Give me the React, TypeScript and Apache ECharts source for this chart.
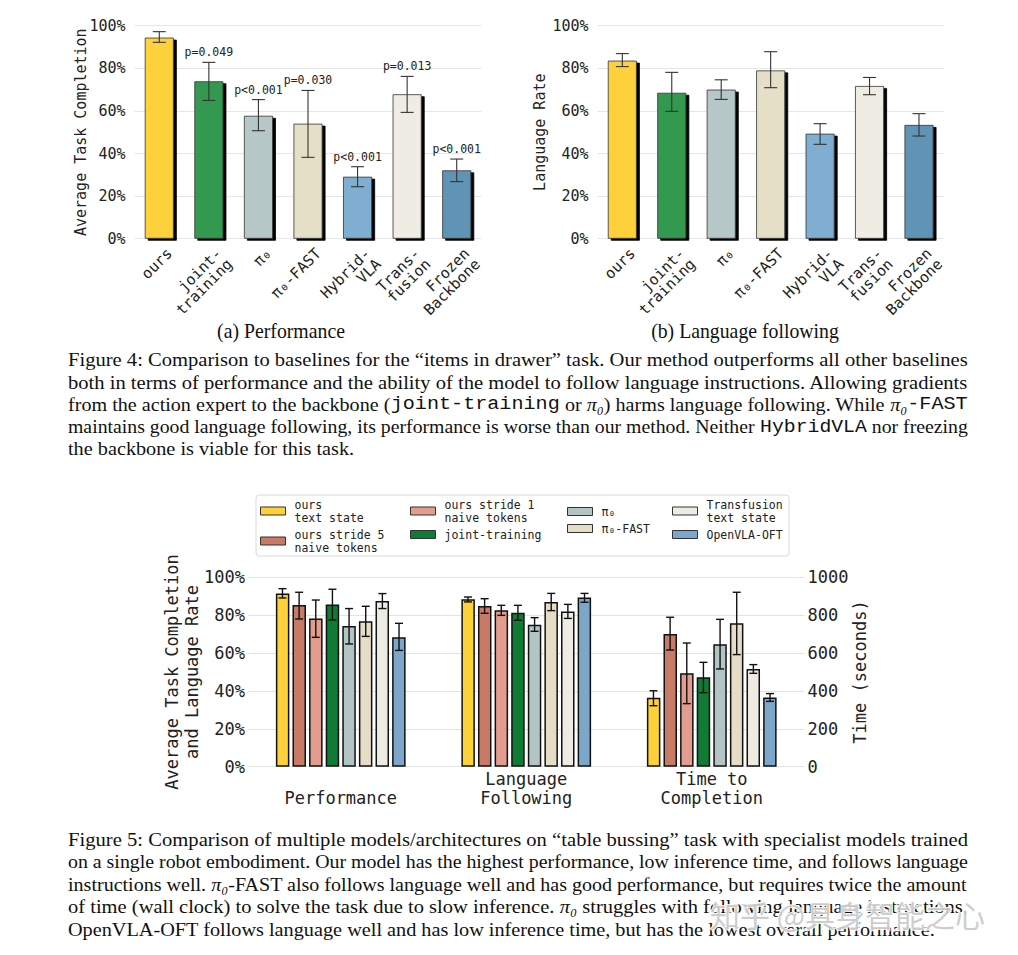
import React, { useEffect, useRef } from "react";
import * as echarts from "echarts";

// ---------- Figure 4 data ----------
const topCategories = ["ours", "joint-\ntraining", "π₀", "π₀-FAST", "Hybrid-\nVLA", "Trans-\nfusion", "Frozen\nBackbone"];
const topColors = ["#fdd13a", "#30994f", "#b6c7c7", "#e6dfc8", "#80aed1", "#efece3", "#6094b4"];
const perfValues = [94.4, 73.9, 57.7, 54.0, 29.1, 67.8, 32.1];
const perfLow = [92.2, 64.9, 50.7, 38.2, 24.4, 59.3, 26.8];
const perfHigh = [97.2, 82.8, 65.3, 69.6, 33.8, 76.2, 37.4];
const perfPValues = ["", "p=0.049", "p<0.001", "p=0.030", "p<0.001", "p=0.013", "p<0.001"];
const langValues = [83.6, 68.5, 70.0, 79.0, 49.3, 71.7, 53.4];
const langLow = [80.8, 59.8, 65.4, 70.9, 44.3, 67.6, 48.2];
const langHigh = [86.9, 78.1, 74.6, 87.8, 54.0, 75.7, 58.7];

// ---------- Figure 5 data ----------
const groupCategories = ["Performance", "Language\nFollowing", "Time to\nCompletion"];
const modelNames = [
  "ours\ntext state",
  "ours stride 5\nnaive tokens",
  "ours stride 1\nnaive tokens",
  "joint-training",
  "π₀",
  "π₀-FAST",
  "Transfusion\ntext state",
  "OpenVLA-OFT",
];
const modelColors = ["#fdd13a", "#c77a65", "#e29d8e", "#0f7b35", "#b3c4c4", "#e5ddc6", "#eeebe3", "#7ca7cb"];
const perf5 = [91.5, 85.4, 78.2, 85.7, 74.3, 76.8, 87.5, 68.3];
const perf5Low = [89.1, 78.0, 68.3, 77.5, 64.8, 68.8, 83.5, 61.4];
const perf5High = [94.0, 92.1, 88.0, 93.7, 83.5, 84.7, 91.4, 75.7];
const lang5 = [88.4, 84.9, 82.6, 81.3, 75.0, 87.0, 81.9, 89.3];
const lang5Low = [87.0, 81.0, 79.9, 77.3, 71.5, 82.4, 78.3, 86.8];
const lang5High = [89.6, 88.7, 85.2, 85.2, 78.7, 91.5, 85.7, 91.5];
const time5 = [364, 701, 493, 472, 646, 757, 516, 366];
const time5Low = [322, 616, 333, 391, 516, 592, 493, 345];
const time5High = [401, 789, 653, 551, 778, 921, 539, 386];
const legendColumns = [[0, 1], [2, 3], [4, 5], [6, 7]];

// ---------- captions ----------
type Seg = [string, "n" | "m" | "i"];
const fig4Caption: Seg[][] = [
  [["Figure 4: Comparison to baselines for the “items in drawer” task. Our method outperforms all other baselines", "n"]],
  [["both in terms of performance and the ability of the model to follow language instructions. Allowing gradients", "n"]],
  [["from the action expert to the backbone (", "n"], ["joint-training", "m"], [" or ", "n"], ["π₀", "i"], [") harms language following. While ", "n"], ["π₀", "i"], ["-FAST", "m"]],
  [["maintains good language following, its performance is worse than our method. Neither ", "n"], ["HybridVLA", "m"], [" nor freezing", "n"]],
  [["the backbone is viable for this task.", "n"]],
];
const fig5Caption: Seg[][] = [
  [["Figure 5: Comparison of multiple models/architectures on “table bussing” task with specialist models trained", "n"]],
  [["on a single robot embodiment. Our model has the highest performance, low inference time, and follows language", "n"]],
  [["instructions well. ", "n"], ["π₀", "i"], ["-FAST also follows language well and has good performance, but requires twice the amount", "n"]],
  [["of time (wall clock) to solve the task due to slow inference. ", "n"], ["π₀", "i"], [" struggles with following language instructions,", "n"]],
  [["OpenVLA-OFT follows language well and has low inference time, but has the lowest overall performance.", "n"]],
];
const subTitles = ["(a) Performance", "(b) Language following"];
const watermark = "知乎 @具身智能之心";

const MONO = "'DejaVu Sans Mono', 'Liberation Mono', monospace";
const SERIF = "'Liberation Serif', 'Times New Roman', serif";
const CAP_MONO = "'Liberation Mono', monospace";
const CAP_SIZE = 19;

function errorBars(data: number[][], xAxisIndex: number, yAxisIndex: number, opts: any) {
  return {
    type: "custom",
    xAxisIndex,
    yAxisIndex,
    silent: true,
    z: 5,
    data,
    encode: { x: 0, y: [1, 2] },
    renderItem: (params: any, api: any) => {
      const cat = api.value(0);
      const lo = api.value(1);
      const hi = api.value(2);
      const k = api.value(3);
      const pLo = api.coord([cat, lo]);
      const pHi = api.coord([cat, hi]);
      const x = pLo[0] + opts.offset(k);
      const half = opts.cap / 2;
      const style = { stroke: opts.color, lineWidth: opts.width };
      const children: any[] = [
        { type: "line", shape: { x1: x, y1: pLo[1], x2: x, y2: pHi[1] }, style },
        { type: "line", shape: { x1: x - half, y1: pLo[1], x2: x + half, y2: pLo[1] }, style },
        { type: "line", shape: { x1: x - half, y1: pHi[1], x2: x + half, y2: pHi[1] }, style },
      ];
      const label = opts.labels ? opts.labels[params.dataIndex] : "";
      if (label) {
        children.push({
          type: "text",
          x,
          y: pHi[1] - 4,
          style: { text: label, align: "center", verticalAlign: "bottom", fontFamily: MONO, fontSize: 11.5, fill: "#222" },
        });
      }
      return { type: "group", children };
    },
  };
}

function segFont(kind: string, size: number) {
  if (kind === "m") return `${size}px ${CAP_MONO}`;
  if (kind === "i") return `italic ${size}px ${SERIF}`;
  return `${size}px ${SERIF}`;
}

function captionGraphics(lines: Seg[][], left: number, right: number, firstY: number, step: number) {
  const canvas = document.createElement("canvas");
  const ctx = canvas.getContext("2d")!;
  const widths = lines.map((line) =>
    line.reduce((acc, seg) => {
      ctx.font = segFont(seg[1], CAP_SIZE);
      return acc + ctx.measureText(seg[0]).width;
    }, 0)
  );
  const target = right - left;
  const scales = widths.map((w) => target / w);
  const justified = scales.slice(0, lines.length - 1);
  const meanScale = justified.reduce((a, b) => a + b, 0) / justified.length;
  const rich = {
    n: { fontFamily: SERIF, fontSize: CAP_SIZE, fill: "#111" },
    m: { fontFamily: CAP_MONO, fontSize: CAP_SIZE, fill: "#111" },
    i: { fontFamily: SERIF, fontStyle: "italic", fontSize: CAP_SIZE, fill: "#111" },
  };
  return lines.map((line, li) => ({
    type: "text",
    x: left,
    y: firstY + li * step,
    scaleX: li === lines.length - 1 ? Math.min(meanScale, scales[li]) : scales[li],
    z: 10,
    silent: true,
    style: {
      text: line.map((s) => `{${s[1]}|${s[0]}}`).join(""),
      rich,
      align: "left",
      verticalAlign: "middle",
      fontFamily: SERIF,
      fontSize: CAP_SIZE,
      fill: "#111",
    },
  }));
}

function topXAxis(gridIndex: number) {
  return {
    type: "category",
    gridIndex,
    data: topCategories,
    axisLine: { show: false },
    axisTick: { show: false },
    axisLabel: {
      interval: 0,
      rotate: 45,
      margin: 2,
      verticalAlign: "top",
      padding: [7, 0, 0, 0],
      fontFamily: MONO,
      fontSize: 15,
      lineHeight: 15,
      color: "#222",
    },
  };
}

function topYAxis(gridIndex: number, name: string, nameGap: number) {
  return {
    type: "value",
    gridIndex,
    min: 0,
    max: 100,
    interval: 20,
    name,
    nameLocation: "middle",
    nameGap,
    nameMoveOverlap: false,
    nameTextStyle: { fontFamily: MONO, fontSize: 15, color: "#222" },
    axisLine: { show: false },
    axisTick: { show: false },
    axisLabel: { formatter: "{value}%", fontFamily: MONO, fontSize: 15, color: "#222", margin: 9 },
    splitLine: { lineStyle: { color: "#e6e6e6", width: 1 } },
  };
}

function topBars(xAxisIndex: number, values: number[]) {
  return {
    type: "bar",
    xAxisIndex,
    yAxisIndex: xAxisIndex,
    barWidth: 29,
    data: values.map((v, i) => ({ value: v, itemStyle: { color: topColors[i] } })),
    itemStyle: {
      borderColor: "#333",
      borderWidth: 0.8,
      shadowColor: "#000",
      shadowOffsetX: 3,
      shadowOffsetY: 2,
      shadowBlur: 0,
    },
  };
}

function buildOption() {
  const PITCH = 16.65;
  const bottomBars: any[] = [];
  modelNames.forEach((name, i) => {
    bottomBars.push({
      type: "bar",
      name,
      xAxisIndex: 2,
      yAxisIndex: 2,
      barWidth: 13.5,
      barGap: "23%",
      data: [perf5[i], lang5[i], "-"],
      itemStyle: { color: modelColors[i], borderColor: "#111", borderWidth: 1.5 },
    });
    bottomBars.push({
      type: "bar",
      name,
      xAxisIndex: 3,
      yAxisIndex: 3,
      barWidth: 13.5,
      barGap: "23%",
      data: ["-", "-", time5[i]],
      itemStyle: { color: modelColors[i], borderColor: "#111", borderWidth: 1.5 },
    });
  });

  const pctErr: number[][] = [];
  const timeErr: number[][] = [];
  modelNames.forEach((_, i) => {
    pctErr.push([0, perf5Low[i], perf5High[i], i]);
    pctErr.push([1, lang5Low[i], lang5High[i], i]);
    timeErr.push([2, time5Low[i], time5High[i], i]);
  });
  const bottomOpts = { offset: (k: number) => (k - 3.5) * PITCH, cap: 8, color: "#111", width: 1.4 };
  const topOpts = { offset: () => 0, cap: 13, color: "#333", width: 1.1 };

  const legends = legendColumns.map((col, ci) => ({
    orient: "vertical",
    left: [260, 410, 567, 672][ci],
    top: [498, 498, 505, 498][ci],
    padding: 0,
    itemWidth: 25,
    itemHeight: 8,
    itemGap: 4,
    icon: "rect",
    selectedMode: false,
    data: col.map((k) => modelNames[k]),
    itemStyle: { borderColor: "#333", borderWidth: 1 },
    textStyle: { fontFamily: MONO, fontSize: 11.5, lineHeight: 13, color: "#222", padding: [0, 0, 0, 4] },
  }));

  const graphics: any[] = [
    {
      type: "rect",
      z: 0,
      silent: true,
      shape: { x: 256, y: 495, width: 533, height: 61, r: 3 },
      style: { fill: "#fff", stroke: "#d9d9d9", lineWidth: 1 },
    },
    {
      type: "text",
      x: 281,
      y: 331,
      scaleX: 0.92,
      silent: true,
      style: { text: subTitles[0], align: "center", verticalAlign: "middle", fontFamily: SERIF, fontSize: 21.5, fill: "#111" },
    },
    {
      type: "text",
      x: 745,
      y: 331,
      scaleX: 0.92,
      silent: true,
      style: { text: subTitles[1], align: "center", verticalAlign: "middle", fontFamily: SERIF, fontSize: 21.5, fill: "#111" },
    },
    ...captionGraphics(fig4Caption, 68, 968, 359.7, 22.35),
    ...captionGraphics(fig5Caption, 68, 968, 839.7, 22.35),
    {
      type: "text",
      x: 710,
      y: 914,
      z: 20,
      silent: true,
      style: {
        text: watermark,
        align: "left",
        verticalAlign: "middle",
        fontFamily: "'Noto Sans CJK SC', sans-serif",
        fontSize: 30,
        fill: "rgba(190,190,190,0.75)",
        stroke: "rgba(255,255,255,0.9)",
        lineWidth: 2,
      },
    },
  ];

  return {
    animation: false,
    backgroundColor: "#fff",
    grid: [
      { left: 134.5, top: 25.7, width: 347, height: 213, outerBoundsMode: "none" },
      { left: 597.6, top: 25.7, width: 346.1, height: 213, outerBoundsMode: "none" },
      { left: 248, top: 577.3, width: 556.5, height: 189.4, outerBoundsMode: "none" },
    ],
    legend: legends,
    xAxis: [
      topXAxis(0),
      topXAxis(1),
      {
        type: "category",
        gridIndex: 2,
        data: groupCategories,
        axisLine: { show: false },
        axisTick: { show: false },
        axisLabel: {
          interval: 0,
          margin: 3,
          fontFamily: MONO,
          fontSize: 17,
          lineHeight: 19,
          color: "#222",
          formatter: (v: string) => (v.includes("\n") ? v : `\n${v}`),
        },
      },
      { type: "category", gridIndex: 2, data: groupCategories, show: false },
    ],
    yAxis: [
      topYAxis(0, "Average Task Completion", 46),
      topYAxis(1, "Language Rate", 50),
      {
        type: "value",
        gridIndex: 2,
        min: 0,
        max: 100,
        interval: 20,
        name: "Average Task Completion\nand Language Rate",
        nameLocation: "middle",
        nameGap: 46,
        nameMoveOverlap: false,
        nameTextStyle: { fontFamily: MONO, fontSize: 17, lineHeight: 20, color: "#222" },
        axisLine: { show: false },
        axisTick: { show: false },
        axisLabel: { formatter: "{value}%", fontFamily: MONO, fontSize: 17, color: "#222", margin: 3 },
        splitLine: { lineStyle: { color: "#e3e3e3", width: 1 } },
      },
      {
        type: "value",
        gridIndex: 2,
        position: "right",
        min: 0,
        max: 1000,
        interval: 200,
        name: "Time (seconds)",
        nameLocation: "middle",
        nameGap: 47,
        nameRotate: 90,
        nameMoveOverlap: false,
        nameTextStyle: { fontFamily: MONO, fontSize: 17, color: "#222" },
        axisLine: { show: false },
        axisTick: { show: false },
        axisLabel: { formatter: (v: number) => String(v), fontFamily: MONO, fontSize: 17, color: "#222", margin: 3 },
        splitLine: { show: false },
      },
    ],
    graphic: graphics,
    series: [
      topBars(0, perfValues),
      errorBars(perfLow.map((l, i) => [i, l, perfHigh[i], 0]), 0, 0, { ...topOpts, labels: perfPValues }),
      topBars(1, langValues),
      errorBars(langLow.map((l, i) => [i, l, langHigh[i], 0]), 1, 1, topOpts),
      ...bottomBars,
      errorBars(pctErr, 2, 2, bottomOpts),
      errorBars(timeErr, 3, 3, bottomOpts),
    ],
  };
}

export default function App() {
  const ref = useRef<HTMLDivElement>(null);
  useEffect(() => {
    const chart = echarts.init(ref.current!, null, { renderer: "svg" });
    chart.setOption(buildOption() as any);
    return () => chart.dispose();
  }, []);
  return (
    <div
      ref={ref}
      style={{ position: "absolute", left: 0, top: 0, width: 1018, height: 955, background: "#fff" }}
    />
  );
}
